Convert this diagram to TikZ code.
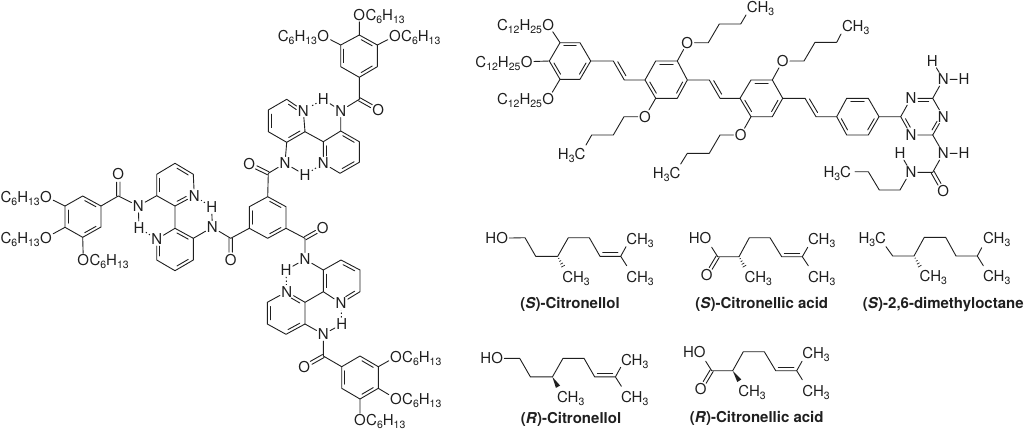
\documentclass[tikz,border=0pt]{standalone}
\usepackage{fontspec}
\setmainfont{TeX Gyre Heros}
\usetikzlibrary{calc}
\definecolor{ink}{gray}{0.12}
\newcommand\lsub[1]{\raisebox{-3pt}{\fontsize{10.5}{10.5}\selectfont #1}}
\newcommand\hex{C\lsub{6}H\lsub{13}}
\newcommand\dod{C\lsub{12}H\lsub{25}}
\newcommand\cht{CH\lsub{3}}
\newcommand\hct{H\lsub{3}C}
\tikzset{
 bond/.style={line width=.9pt,draw=ink,line cap=round,line join=round},
 hbond/.style={line width=1pt,draw=ink,dash pattern=on 1.3pt off 2.4pt},
 atom/.style={inner sep=1.2pt,text=ink,font=\fontsize{15}{17}\selectfont,text height=10.8pt,text depth=0pt},
 tailtxt/.style={inner sep=0pt,text=ink,font=\fontsize{15}{17}\selectfont,text height=10.8pt,text depth=0pt},
 captxt/.style={inner sep=0pt,text=ink,font=\fontsize{15}{17}\selectfont\bfseries,text height=10.8pt,text depth=0pt},
}
\newcommand\oxr[3]{\node[atom](#1) at (#2){O};\node[tailtxt,anchor=base west,xshift=-1.2pt](#1t) at (#1.base east){#3};}
\newcommand\oxl[3]{\node[atom](#1) at (#2){O};\node[tailtxt,anchor=base east,xshift=1.2pt](#1t) at (#1.base west){#3};}
\newcommand\dbl[4][.13]{\draw[bond] ($(#2)!#1!(#3)!.17!(#4)$) -- ($(#3)!.13!(#2)!.17!(#4)$);}
\newcommand\dbo[3]{\draw[bond] ($(#1)!.13!(#2)!3.5pt!#3:(#2)$) -- ($(#2)!.13!(#1)!3.5pt!-#3:(#1)$);}
\newcommand\dco[2]{%
 \draw[bond] ($(#1)!1.7pt!90:(#2)$) -- ($(#2)!.36!(#1)!1.7pt!-90:(#1)$);
 \draw[bond] ($(#1)!1.7pt!-90:(#2)$) -- ($(#2)!.36!(#1)!1.7pt!90:(#1)$);}
\newcommand\hashb[2]{\foreach \t/\w in {.2/.6pt,.45/1pt,.7/1.5pt,.95/2pt}
 \draw[line width=.7pt,draw=ink] ($(#1)!\t!(#2)!\w!90:(#2)$) -- ($(#1)!\t!(#2)!\w!-90:(#2)$);}
\newcommand\wedg[2]{\fill[ink] (#1) -- ($(#2)!2.4pt!90:(#1)$) -- ($(#2)!2.4pt!-90:(#1)$) -- cycle;}
\begin{document}
\begin{tikzpicture}[x=1pt,y=-1pt]
\useasboundingbox (0,0) rectangle (1024,429);
% ---------- left molecule ----------
\path coordinate (a1) at (65,206) coordinate (a2) at (82.7,196) coordinate (a3) at (101,206)
 coordinate (a4) at (101,227) coordinate (a5) at (82.7,237.3) coordinate (a6) at (65,227.3) coordinate (ac) at (83,216.7)
 coordinate (ca) at (118.3,196)
 coordinate (b1) at (175,206) coordinate (b3) at (193.3,174.3) coordinate (b4) at (175,163.3)
 coordinate (b5) at (156.7,174.3) coordinate (b6) at (156.7,195.7) coordinate (bc) at (175,185)
 coordinate (c1) at (175,228.3) coordinate (c3) at (156.7,260) coordinate (c4) at (175,270.7)
 coordinate (c5) at (193.3,260) coordinate (c6) at (193.3,238.3) coordinate (cc) at (175,249.5)
 coordinate (cb) at (230.7,238.3)
 coordinate (d1) at (249.3,206.7) coordinate (d2) at (267.7,196.7) coordinate (d3) at (286,206.7)
 coordinate (d4) at (286,228.3) coordinate (d5) at (267.7,238.3) coordinate (d6) at (249.3,228.3) coordinate (dc) at (267.7,217.5)
 coordinate (ce) at (268.3,173.3)
 coordinate (e2) at (286.7,99.3) coordinate (e3) at (268.3,110) coordinate (e4) at (268.3,131.7)
 coordinate (e5) at (286.7,142.3) coordinate (e6) at (305,131.7) coordinate (ec) at (286.7,121)
 coordinate (f2) at (340,173.3) coordinate (f3) at (359.3,162.3) coordinate (f4) at (359.3,141.7)
 coordinate (f5) at (340.7,131) coordinate (f6) at (323.3,141.7) coordinate (fc) at (341,152)
 coordinate (cg) at (359.3,99.3)
 coordinate (g1) at (359.3,77.3) coordinate (g2) at (340.7,66.7) coordinate (g3) at (340.7,45)
 coordinate (g4) at (359.3,35) coordinate (g5) at (377.3,45) coordinate (g6) at (377.3,66.7) coordinate (gc) at (359,56)
 coordinate (ch) at (305,238.3)
 coordinate (i1) at (323.3,270) coordinate (i2) at (341,260) coordinate (i3) at (360,270)
 coordinate (i4) at (360,291.7) coordinate (i6) at (323.3,291.7) coordinate (ic) at (341,281)
 coordinate (j1) at (305,302.3) coordinate (j3) at (267.3,302.3) coordinate (j4) at (267.3,324)
 coordinate (j5) at (286,334.3) coordinate (j6) at (305,324) coordinate (jc) at (286,313)
 coordinate (ci) at (323.3,356)
 coordinate (k1) at (341.7,366.7) coordinate (k2) at (360,356) coordinate (k3) at (378.3,366.7)
 coordinate (k4) at (378.3,388.3) coordinate (k5) at (360,399) coordinate (k6) at (341.7,388.3) coordinate (kc) at (360,377.5);
\oxl{oa1}{46,196.7}{\hex}
\oxl{oa2}{46,237.7}{\hex}
\oxr{oa3}{83.3,260}{\hex}
\node[atom](oca) at (118.3,174.3){O};
\node[atom](na) at (138.3,206){N};
\node[atom](ha) at (139,227.7){H};
\node[atom](b2) at (194.3,195.7){N};
\node[atom](c2) at (156.7,239.3){N};
\node[atom](nb) at (212.3,227.3){N};
\node[atom](hb1) at (211.7,207.3){H};
\node[atom](ocb) at (230.7,260){O};
\node[atom](oce) at (249.3,164){O};
\node[atom](nd) at (285,163.3){N};
\node[atom](hd) at (305,175){H};
\node[atom](e1) at (303.3,110.7){N};
\node[atom](f1) at (323.3,163.3){N};
\node[atom](ne) at (340.7,110.7){N};
\node[atom](he) at (323.3,99.3){H};
\node[atom](ocg) at (378.3,110){O};
\oxl{og3}{323.3,36}{\hex}
\oxr{og4}{359.3,15}{\hex}
\oxr{og5}{395,36}{\hex}
\node[atom](och) at (322.7,228.3){O};
\node[atom](nh) at (305,259.3){N};
\node[atom](hh) at (286,270){H};
\node[atom](i5) at (341,303.3){N};
\node[atom](j2) at (286.7,291.7){N};
\node[atom](hi) at (341.7,324.3){H};
\node[atom](ni) at (323.3,334.3){N};
\node[atom](oci) at (304.3,366.7){O};
\oxr{ok3}{396,356.7}{\hex}
\oxr{ok4}{396,399}{\hex}
\oxr{ok5}{360,420}{\hex}
\draw[bond] (a1)--(a2)--(a3)--(a4)--(a5)--(a6)--cycle;
\dbl{a2}{a3}{ac}\dbl{a4}{a5}{ac}\dbl{a6}{a1}{ac}
\draw[bond] (a1)--(oa1) (a6)--(oa2) (a5)--(oa3) (a3)--(ca)--(na)--(b6) (na)--(ha);
\dco{ca}{oca}
\draw[bond] (b1)--(b2)--(b3)--(b4)--(b5)--(b6)--(b1)--(c1)--(c2)--(c3)--(c4)--(c5)--(c6)--(c1);
\dbl[.3]{b2}{b1}{bc}\dbl{b3}{b4}{bc}\dbl{b5}{b6}{bc}
\dbl{c1}{c6}{cc}\dbl[.3]{c2}{c3}{cc}\dbl{c4}{c5}{cc}
\draw[hbond] (hb1)--(b2) (ha)--(c2);
\draw[bond] (c6)--(nb)--(cb)--(d6) (nb)--(hb1);
\dco{cb}{ocb}
\draw[bond] (d1)--(d2)--(d3)--(d4)--(d5)--(d6)--cycle;
\dbl{d6}{d1}{dc}\dbl{d2}{d3}{dc}\dbl{d4}{d5}{dc}
\draw[bond] (d2)--(ce)--(nd)--(e5) (nd)--(hd);
\dco{ce}{oce}
\draw[bond] (e1)--(e2)--(e3)--(e4)--(e5)--(e6)--(e1);
\dbl[.3]{e1}{e2}{ec}\dbl{e3}{e4}{ec}\dbl{e5}{e6}{ec}
\draw[bond] (e6)--(f6)--(f1)--(f2)--(f3)--(f4)--(f5)--(f6);
\dbl[.3]{f1}{f6}{fc}\dbl{f2}{f3}{fc}\dbl{f4}{f5}{fc}
\draw[hbond] (hd)--(f1) (he)--(e1);
\draw[bond] (f5)--(ne)--(cg)--(g1) (ne)--(he);
\dco{cg}{ocg}
\draw[bond] (g1)--(g2)--(g3)--(g4)--(g5)--(g6)--cycle;
\dbl{g2}{g3}{gc}\dbl{g4}{g5}{gc}\dbl{g6}{g1}{gc}
\draw[bond] (g3)--(og3) (g4)--(og4) (g5)--(og5);
\draw[bond] (d4)--(ch)--(nh)--(i1) (nh)--(hh);
\dco{ch}{och}
\draw[bond] (i1)--(i2)--(i3)--(i4)--(i5)--(i6)--(i1);
\dbl{i1}{i6}{ic}\dbl{i2}{i3}{ic}\dbl[.3]{i5}{i4}{ic}
\draw[bond] (i6)--(j1)--(j2)--(j3)--(j4)--(j5)--(j6)--(j1);
\dbl[.3]{j2}{j1}{jc}\dbl{j3}{j4}{jc}\dbl{j5}{j6}{jc}
\draw[hbond] (hh)--(j2) (hi)--(i5);
\draw[bond] (j6)--(ni)--(ci)--(k1) (ni)--(hi);
\dco{ci}{oci}
\draw[bond] (k1)--(k2)--(k3)--(k4)--(k5)--(k6)--cycle;
\dbl{k2}{k3}{kc}\dbl{k4}{k5}{kc}\dbl{k6}{k1}{kc}
\draw[bond] (k3)--(ok3) (k4)--(ok4) (k5)--(ok5);
% ---------- right molecule ----------
\path coordinate (r1) at (560,42.7) coordinate (r2) at (580,42.7) coordinate (r3) at (590.7,61)
 coordinate (r4) at (580,79.3) coordinate (r5) at (560,79.3) coordinate (r6) at (549.3,61) coordinate (rc) at (570,61)
 coordinate (v1) at (613.3,61) coordinate (v2) at (624.3,80)
 coordinate (s1) at (645,80) coordinate (s2) at (655.7,61) coordinate (s3) at (677.3,61)
 coordinate (s4) at (687.3,80) coordinate (s5) at (677.3,98.3) coordinate (s6) at (655.7,98.3) coordinate (sc) at (666.3,80)
 coordinate (m1) at (708.3,42.7) coordinate (m2) at (719.3,24) coordinate (m3) at (740.7,24) coordinate (m4) at (746,15)
 coordinate (n1) at (624,116.7) coordinate (n2) at (613.3,135) coordinate (n3) at (591.7,135) coordinate (n4) at (586,145)
 coordinate (v3) at (709.3,80) coordinate (v4) at (720,98.3)
 coordinate (t1) at (740,98.3) coordinate (t2) at (751,80) coordinate (t3) at (772.3,80)
 coordinate (t4) at (782.7,98.3) coordinate (t5) at (772.3,116.7) coordinate (t6) at (751,116.7) coordinate (tc) at (761.3,98.3)
 coordinate (p1) at (804,61) coordinate (p2) at (815,42.3) coordinate (p3) at (836.7,42.3) coordinate (p4) at (841,34)
 coordinate (q1) at (720,135) coordinate (q2) at (709.3,153.3) coordinate (q3) at (687.3,153.3) coordinate (q4) at (680.7,164)
 coordinate (v5) at (805,98.3) coordinate (v6) at (816,116.7)
 coordinate (u1) at (836.7,116.7) coordinate (u2) at (846.7,98.3) coordinate (u3) at (868.3,98.3)
 coordinate (u4) at (879,116.7) coordinate (u5) at (868.3,135) coordinate (u6) at (846.7,135) coordinate (uc) at (857.8,116.7)
 coordinate (z1) at (900.7,116.7) coordinate (z3) at (932.7,98.3) coordinate (z5) at (932.7,135) coordinate (zc) at (922,116.7)
 coordinate (ur) at (932.7,172.3)
 coordinate (w1) at (905.7,180) coordinate (w2) at (900,190) coordinate (w3) at (879.3,190) coordinate (w4) at (868.3,171.7) coordinate (w5) at (855,171.7);
\oxl{ro1}{548.3,25}{\dod}
\oxl{ro2}{526.7,61.7}{\dod}
\oxl{ro3}{548.3,99}{\dod}
\node[atom](so1) at (687.3,42.7){O};
\node[atom](so2) at (645,116.7){O};
\node[atom](to1) at (782.7,61){O};
\node[atom](to2) at (740.7,135){O};
\node[atom](ch1) at (760.5,6.7){\cht};
\node[atom](ch2) at (855.7,26){\cht};
\node[atom](hc1) at (571.7,154){\hct};
\node[atom](hc2) at (666.7,172.7){\hct};
\node[atom](hc3) at (837.3,172.3){\hct};
\node[atom](z2) at (911,98.3){N};
\node[atom](z4) at (943.3,116.7){N};
\node[atom](z6) at (911,135){N};
\node[atom](na1) at (943.3,79.3){N};
\node[atom](ha1) at (964,79.3){H};
\node[atom](ha2) at (932.3,61){H};
\node[atom](nc1) at (943.3,153.3){N};
\node[atom](hc4) at (964,153.3){H};
\node[atom](nc2) at (911,172.3){N};
\node[atom](hc5) at (900,153.3){H};
\node[atom](our) at (943.3,191){O};
\draw[bond] (r1)--(r2)--(r3)--(r4)--(r5)--(r6)--cycle;
\dbl{r1}{r2}{rc}\dbl{r3}{r4}{rc}\dbl{r5}{r6}{rc}
\draw[bond] (r1)--(ro1) (r6)--(ro2) (r5)--(ro3);
\draw[bond] (r3)--(v1)--(v2)--(s1); \dbo{v1}{v2}{90}
\draw[bond] (s1)--(s2)--(s3)--(s4)--(s5)--(s6)--cycle;
\dbl{s2}{s3}{sc}\dbl{s4}{s5}{sc}\dbl{s6}{s1}{sc}
\draw[bond] (s3)--(so1)--(m1)--(m2)--(m3)--(m4);
\draw[bond] (s6)--(so2)--(n1)--(n2)--(n3)--(n4);
\draw[bond] (s4)--(v3)--(v4)--(t1); \dbo{v3}{v4}{90}
\draw[bond] (t1)--(t2)--(t3)--(t4)--(t5)--(t6)--cycle;
\dbl{t2}{t3}{tc}\dbl{t4}{t5}{tc}\dbl{t6}{t1}{tc}
\draw[bond] (t3)--(to1)--(p1)--(p2)--(p3)--(p4);
\draw[bond] (t6)--(to2)--(q1)--(q2)--(q3)--(q4);
\draw[bond] (t4)--(v5)--(v6)--(u1); \dbo{v5}{v6}{90}
\draw[bond] (u1)--(u2)--(u3)--(u4)--(u5)--(u6)--cycle;
\dbl{u2}{u3}{uc}\dbl{u4}{u5}{uc}\dbl{u6}{u1}{uc}
\draw[bond] (u4)--(z1)--(z2)--(z3)--(z4)--(z5)--(z6)--(z1);
\dbl[.3]{z2}{z3}{zc}\dbl[.3]{z4}{z5}{zc}\dbl[.3]{z6}{z1}{zc}
\draw[bond] (z3)--(na1)--(ha1) (na1)--(ha2) (z5)--(nc1)--(hc4) (nc1)--(ur)--(nc2)--(hc5) (nc2)--(w1)--(w2)--(w3)--(w4)--(w5);
\dco{ur}{our}
% ---------- small molecules ----------
\path coordinate (sa1) at (525,237.7) coordinate (sa2) at (535.7,256.3) coordinate (sa3) at (557.7,256.3)
 coordinate (sa4) at (568.3,237.7) coordinate (sa5) at (589.3,237.7) coordinate (sa6) at (600,256.3) coordinate (sa7) at (620.7,256.3)
 coordinate (sa8) at (626,246.7) coordinate (sa9) at (626.7,265.7) coordinate (sa10) at (563.3,266.7);
\node[atom](shh) at (496.7,238.3){HO};
\node[atom](sm1) at (640,239){\cht};
\node[atom](sm2) at (640,276.7){\cht};
\node[atom](sm3) at (576,276.7){\cht};
\node[captxt](scap) at (570,303.3){(\textit{S})-Citronellol};
\draw[bond] (shh)--(sa1)--(sa2)--(sa3)--(sa4)--(sa5)--(sa6)--(sa7)--(sa8) (sa7)--(sa9);
\dbo{sa6}{sa7}{90}
\hashb{sa3}{sa10}
\path coordinate (ra1) at (519.7,358.3) coordinate (ra2) at (530.4,376.9) coordinate (ra3) at (552.4,376.9)
 coordinate (ra4) at (563,358.3) coordinate (ra5) at (584,358.3) coordinate (ra6) at (594.7,376.9) coordinate (ra7) at (615.4,376.9)
 coordinate (ra8) at (620.7,367.3) coordinate (ra9) at (621.4,386.3) coordinate (ra10) at (558,386.7);
\node[atom](rhh) at (491.7,358.5){HO};
\node[atom](rm1) at (634.7,359.6){\cht};
\node[atom](rm2) at (634.7,397.3){\cht};
\node[atom](rm3) at (570.7,397.3){\cht};
\node[captxt](rcap) at (571,418.3){(\textit{R})-Citronellol};
\draw[bond] (rhh)--(ra1)--(ra2)--(ra3)--(ra4)--(ra5)--(ra6)--(ra7)--(ra8) (ra7)--(ra9);
\dbo{ra6}{ra7}{90}
\wedg{ra3}{ra10}
% S acid
\path coordinate (sb1) at (711.7,247.3) coordinate (sb2) at (717.7,256.7) coordinate (sb3) at (739,256.7)
 coordinate (sb4) at (749.3,237.7) coordinate (sb5) at (770,237.7) coordinate (sb6) at (781.7,256.7) coordinate (sb7) at (802.3,256.7)
 coordinate (sb8) at (807.7,247.3) coordinate (sb9) at (808.3,265.7) coordinate (sb10) at (744.7,266.7);
\node[atom](sbh) at (700,238.3){HO};
\node[atom](sbo) at (706.7,275){O};
\node[atom](sbm1) at (821.7,239){\cht};
\node[atom](sbm2) at (821.7,276.7){\cht};
\node[atom](sbm3) at (758.3,276.7){\cht};
\node[captxt](sbcap) at (761.7,303.3){(\textit{S})-Citronellic acid};
\draw[bond] (sb1)--(sb2)--(sb3)--(sb4)--(sb5)--(sb6)--(sb7)--(sb8) (sb7)--(sb9);
\dco{sb2}{sbo}\dbo{sb6}{sb7}{90}\hashb{sb3}{sb10}
% R acid
\path coordinate (rb1) at (705.7,361.3) coordinate (rb2) at (711.7,370.7) coordinate (rb3) at (732.7,370.7)
 coordinate (rb4) at (743.3,351.7) coordinate (rb5) at (764.3,351.7) coordinate (rb6) at (775.7,370.7) coordinate (rb7) at (796.7,370.7)
 coordinate (rb8) at (802,361.3) coordinate (rb9) at (802.3,379.7) coordinate (rb10) at (739.3,380.7);
\node[atom](rbh) at (694.3,352.3){HO};
\node[atom](rbo) at (700.7,389){O};
\node[atom](rbm1) at (816,353.3){\cht};
\node[atom](rbm2) at (816,390.7){\cht};
\node[atom](rbm3) at (752,390.7){\cht};
\node[captxt](rbcap) at (756.7,417.3){(\textit{R})-Citronellic acid};
\draw[bond] (rb1)--(rb2)--(rb3)--(rb4)--(rb5)--(rb6)--(rb7)--(rb8) (rb7)--(rb9);
\dco{rb2}{rbo}\dbo{rb6}{rb7}{90}\wedg{rb3}{rb10}
% dimethyloctane
\path coordinate (da1) at (886,246.7) coordinate (da2) at (892.7,256) coordinate (da3) at (914,256)
 coordinate (da4) at (924.3,237.3) coordinate (da5) at (945.7,237.3) coordinate (da6) at (956,256) coordinate (da7) at (977.3,256)
 coordinate (da8) at (981.7,247.7) coordinate (da9) at (983.3,265.7) coordinate (da10) at (920,266.7);
\node[atom](dh) at (872.3,237.7){\hct};
\node[atom](dm1) at (996.7,237.7){\cht};
\node[atom](dm2) at (996.7,275.7){\cht};
\node[atom](dm3) at (933.3,275.7){\cht};
\node[captxt](dcap) at (943.3,302.7){(\textit{S})-2,6-dimethyloctane};
\draw[bond] (da1)--(da2)--(da3)--(da4)--(da5)--(da6)--(da7)--(da8) (da7)--(da9);
\hashb{da3}{da10}
\end{tikzpicture}
\end{document}
